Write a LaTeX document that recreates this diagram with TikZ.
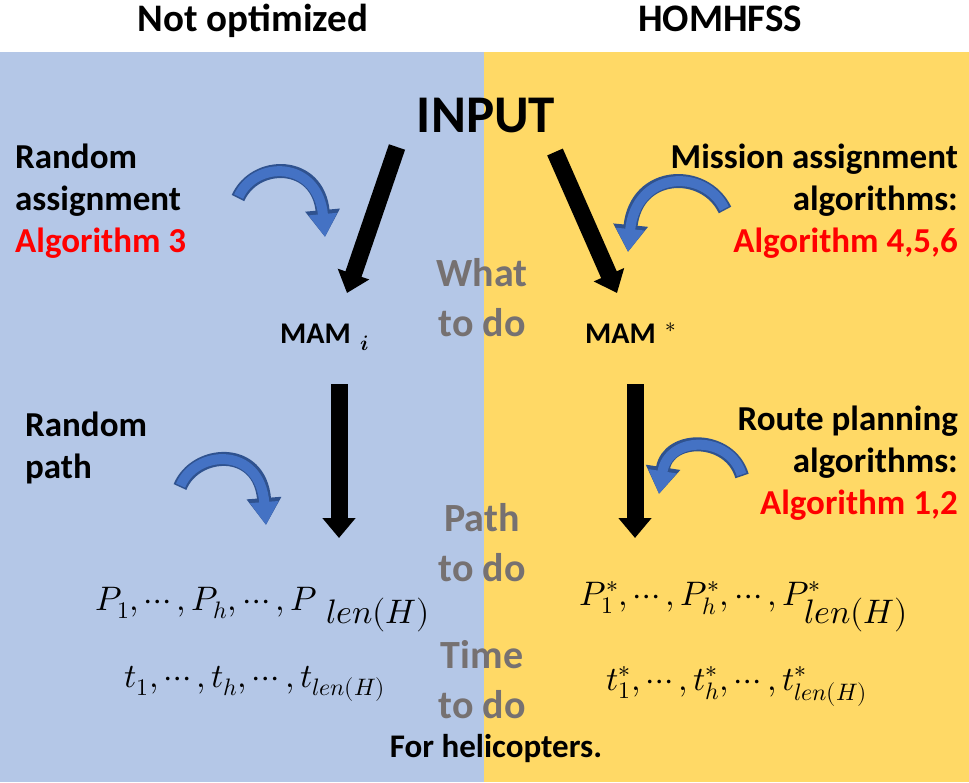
\documentclass[tikz,border=0pt]{standalone}
\usepackage{fontspec}
\usepackage{unicode-math}
\setmainfont{Carlito}
\setmathfont{Latin Modern Math}
\usetikzlibrary{arrows.meta}
\definecolor{bgblue}{RGB}{180,199,231}
\definecolor{bgyellow}{RGB}{255,217,102}
\definecolor{algred}{RGB}{255,0,0}
\definecolor{todogray}{RGB}{118,113,113}
\definecolor{curvblue}{RGB}{68,114,196}
\definecolor{curvdark}{RGB}{47,82,143}
\begin{document}
\begin{tikzpicture}[x=1pt,y=-1pt,
  hdr/.style={font=\bfseries\fontsize{39}{46}\selectfont, inner sep=0pt},
  side/.style={font=\bfseries\fontsize{35}{42}\selectfont, inner sep=0pt},
  todo/.style={font=\bfseries\fontsize{40}{50}\selectfont, text=todogray, inner sep=0pt, align=center},
  mam/.style={font=\bfseries\fontsize{30}{36}\selectfont, inner sep=0pt},
  mathtxt/.style={font=\fontsize{34}{40}\selectfont, inner sep=0pt},
  blk/.style={line width=17pt, -{Triangle[length=20pt,width=32pt]}},
  curvback/.style={line width=14pt, curvdark, -{Triangle[length=27pt,width=33pt]}},
  curv/.style={line width=10pt, curvblue, shorten <=1.5pt, -{Triangle[length=23pt,width=27pt]}}]
\useasboundingbox (0,0) rectangle (969,782);
\fill[white] (0,0) rectangle (969,52);
\fill[bgblue] (0,52) rectangle (484,782);
\fill[bgyellow] (484,52) rectangle (969,782);

% headers
\node[hdr, anchor=base] (h1) at (253,31) {Not optimized};
\node[hdr, anchor=base] (h2) at (720,31) {HOMHFSS};
\node[font=\bfseries\fontsize{53}{60}\selectfont, inner sep=0pt, anchor=base] (input) at (486,132) {INPUT};

% side texts (base anchor = last line)
\node[side, anchor=base west, align=left] (ra) at (15,252) {Random\\assignment\\\textcolor{algred}{Algorithm 3}};
\node[side, anchor=base east, align=right] (ma) at (958,252) {Mission assignment\\algorithms:\\\textcolor{algred}{Algorithm 4,5,6}};
\node[side, anchor=base west, align=left] (rp) at (25,478) {Random\\path};
\node[side, anchor=base east, align=right] (rpl) at (958,514) {Route planning\\algorithms:\\\textcolor{algred}{Algorithm 1,2}};

% gray texts
\node[todo, anchor=base] (what) at (482,336) {What\\to do};
\node[todo, anchor=base] (path) at (482,581) {Path\\to do};
\node[todo, anchor=base] (time) at (482,718) {Time\\to do};

% MAM
\node[mam, anchor=base west] (mami) at (280,343) {MAM\,\,$_{\symbfit{i}}$};
\node[mam, anchor=base west] (mams) at (585,343) {MAM\,\,$^{*}$};

% math lines
\node[mathtxt, anchor=base] (pl) at (263,610) {$P_1,\cdots,P_h,\cdots,P\;{}_{\textstyle len(H)}$};
\node[mathtxt, anchor=base] (tl) at (255,687) {$t_1,\cdots,t_h,\cdots,t_{len(H)}$};
\node[mathtxt, anchor=base] (pr) at (744,605) {$P^*_1,\cdots,P^*_h,\cdots,P^*_{\textstyle len(H)}$};
\node[mathtxt, anchor=base] (tr) at (737,690) {$t^*_1,\cdots,t^*_h,\cdots,t^*_{len(H)}$};

\node[font=\bfseries\fontsize{33}{40}\selectfont, inner sep=0pt, anchor=base] (heli) at (496,757) {For helicopters.};

% black arrows
\coordinate (a1s) at (397,147);
\coordinate (a1e) at (347,293);
\coordinate (a2s) at (555,152);
\coordinate (a2e) at (617,293);
\coordinate (a3s) at (339,384);
\coordinate (a3e) at (339,538);
\coordinate (a4s) at (635,384);
\coordinate (a4e) at (635,538);
\draw[blk] (a1s) -- (a1e);
\draw[blk] (a2s) -- (a2e);
\draw[blk] (a3s) -- (a3e);
\draw[blk] (a4s) -- (a4e);

% curved blue arrows
\coordinate (c1s) at (238,198);
\coordinate (c1e) at (325,237);
\coordinate (c2s) at (725,210);
\coordinate (c2e) at (628,252);
\coordinate (c3s) at (180,487);
\coordinate (c3e) at (266,525);
\coordinate (c4s) at (742,476);
\coordinate (c4e) at (659,494);
\foreach \s in {curvback,curv}{
  \draw[\s] (c1s) .. controls (255,160) and (318,160) .. (c1e);
  \draw[\s] (c2s) .. controls (705,168) and (636,170) .. (c2e);
  \draw[\s] (c3s) .. controls (195,450) and (260,445) .. (c3e);
  \draw[\s] (c4s) .. controls (730,435) and (668,435) .. (c4e);
}
\end{tikzpicture}
\end{document}
